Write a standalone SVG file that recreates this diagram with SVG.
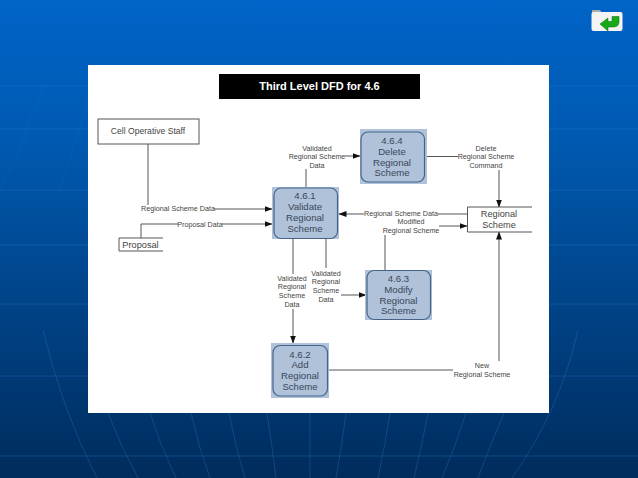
<svg xmlns="http://www.w3.org/2000/svg" width="638" height="478" viewBox="0 0 638 478">
<defs>
<linearGradient id="bg" x1="0" y1="0" x2="0" y2="1"><stop offset="0" stop-color="#0064c8"/><stop offset="0.3" stop-color="#0059b0"/><stop offset="0.7" stop-color="#003f80"/><stop offset="1" stop-color="#002c5c"/></linearGradient>
<marker id="a" markerWidth="8" markerHeight="6" refX="7.5" refY="3" orient="auto" markerUnits="userSpaceOnUse"><path d="M0 0L8 3L0 6z" fill="#111"/></marker>
</defs>
<style>
text{font-family:"Liberation Sans",Arial,sans-serif;text-anchor:middle}
.g path,.g line{fill:none;stroke:#2f7fd0;stroke-width:.8;opacity:.4}
.g .f{opacity:.2}
.c path{fill:none;stroke:#555;stroke-width:1}
.arr{marker-end:url(#a)}
.l{font-size:7.2px;fill:#444}
.n{font-size:9.6px;fill:#3a4658}
.sh{fill:#afc2da}
.pr{fill:#afc2da;stroke:#46648a;stroke-width:1.2}
.e{fill:#fff;stroke:#555;stroke-width:1}
.o{fill:none;stroke:#555;stroke-width:1}
</style>
<rect width="638" height="478" fill="url(#bg)"/>
<g class="g">
<line x1="0" y1="86" x2="638" y2="86"/><line x1="0" y1="129" x2="638" y2="129"/><line x1="0" y1="190" x2="638" y2="190"/><line x1="0" y1="245" x2="638" y2="245"/><line x1="0" y1="304" x2="638" y2="304"/><line x1="0" y1="376" x2="638" y2="376"/><line x1="0" y1="456" x2="638" y2="456"/>
<path d="M43 330Q62 410 97 478"/><path d="M108 413Q120 445 138 478"/><path d="M150 413Q160 445 176 478"/><path d="M191 413Q198 445 210 478"/><path d="M229 413Q235 445 245 478"/><path d="M267 413Q272 445 276 478"/><path d="M310 413V478"/><path d="M346 413Q342 445 336 478"/><path d="M390 413Q385 445 378 478"/><path d="M428 413Q422 445 414 478"/><path d="M466 413Q456 445 442 478"/><path d="M504 413Q490 445 478 478"/><path d="M578 330Q560 410 512 478"/>
<path class="f" d="M0 190L30 130"/><path class="f" d="M18 150L45 85"/><path class="f" d="M60 190L88 100"/>
</g>
<g id="icon">
<path d="M592 13V10H600L602 13z" fill="#aaa"/>
<rect x="591.500" y="12" width="31" height="19" rx="2" fill="#f4f4f4"/>
<path d="M600 24L608 18V21.500H612V16.500H619V22Q619 27 613 27H608V31z" fill="#18a818" stroke="#0b6b0b" stroke-width=".5"/>
</g>
<rect id="page" x="88" y="65" width="461" height="348" fill="#fff"/>
<g id="title"><rect x="219" y="74" width="201" height="25" fill="#000"/><text x="319.500" y="90" font-size="11" font-weight="bold" fill="#fff">Third Level DFD for 4.6</text></g>
<g class="c" id="connectors">
<path d="M148 144V205"/><path class="arr" d="M214 209H272"/>
<path d="M141 238V224H178"/><path class="arr" d="M222 224H272"/>
<path d="M306 187V169"/><path class="arr" d="M345 156H360"/>
<path d="M425 156.500H458"/><path class="arr" d="M499 170V207"/>
<path d="M467 214H438"/><path class="arr" d="M364 214H339"/>
<path class="arr" d="M439 226H467"/><path d="M385 235V270"/>
<path d="M293 239V274"/><path class="arr" d="M293 309V343"/>
<path d="M326 239V268"/><path class="arr" d="M341 295H366"/>
<path d="M329 370H453"/><path class="arr" d="M499 361V232"/>
</g>
<g id="staff"><rect class="e" x="98" y="119" width="101" height="25"/><text x="148" y="134" font-size="8.600" fill="#444">Cell Operative Staff</text></g>
<g id="proposal"><path class="o" d="M163 238H119V251H163"/><text x="140.500" y="248" font-size="9.200" fill="#444">Proposal</text></g>
<g id="store"><path class="o" d="M532 207H467.500V232H532"/><text x="499" y="217" font-size="9.200" fill="#444">Regional</text><text x="499" y="228" font-size="9.200" fill="#444">Scheme</text></g>
<g id="p461"><rect class="sh" x="272" y="187" width="67" height="52"/><rect class="pr" x="274" y="188" width="63.500" height="50.500" rx="7"/><text class="n" x="305" y="199">4.6.1</text><text class="n" x="305" y="210">Validate</text><text class="n" x="305" y="221">Regional</text><text class="n" x="305" y="232">Scheme</text></g>
<g id="p464"><rect class="sh" x="360" y="129" width="67" height="55"/><rect class="pr" x="361" y="132" width="63.500" height="50" rx="7"/><text class="n" x="392" y="144">4.6.4</text><text class="n" x="392" y="155">Delete</text><text class="n" x="392" y="166">Regional</text><text class="n" x="392" y="176">Scheme</text></g>
<g id="p463"><rect class="sh" x="365" y="270" width="67" height="50"/><rect class="pr" x="367" y="270.500" width="63.500" height="49" rx="7"/><text class="n" x="398.500" y="282">4.6.3</text><text class="n" x="398.500" y="293">Modify</text><text class="n" x="398.500" y="304">Regional</text><text class="n" x="398.500" y="314">Scheme</text></g>
<g id="p462"><rect class="sh" x="271" y="343" width="58" height="55"/><rect class="pr" x="273" y="345.500" width="54.500" height="50.500" rx="7"/><text class="n" x="300" y="358">4.6.2</text><text class="n" x="300" y="368">Add</text><text class="n" x="300" y="379">Regional</text><text class="n" x="300" y="390">Scheme</text></g>
<g id="labels">
<text class="l" x="178" y="211">Regional Scheme Data</text>
<text class="l" x="200" y="226.500">Proposal Data</text>
<text class="l" x="317" y="151">Validated</text><text class="l" x="317" y="159">Regional Scheme</text><text class="l" x="317" y="168">Data</text>
<text class="l" x="486" y="150.500">Delete</text><text class="l" x="486" y="159">Regional Scheme</text><text class="l" x="486" y="167.500">Command</text>
<text class="l" x="401" y="216">Regional Scheme Data</text>
<text class="l" x="411" y="224">Modified</text><text class="l" x="411" y="232.500">Regional Scheme</text>
<text class="l" x="292" y="280.500">Validated</text><text class="l" x="292" y="289">Regional</text><text class="l" x="292" y="298">Scheme</text><text class="l" x="292" y="306.500">Data</text>
<text class="l" x="326" y="275.500">Validated</text><text class="l" x="326" y="284">Regional</text><text class="l" x="326" y="293">Scheme</text><text class="l" x="326" y="301.500">Data</text>
<text class="l" x="482" y="368">New</text><text class="l" x="482" y="376.500">Regional Scheme</text>
</g>
</svg>
